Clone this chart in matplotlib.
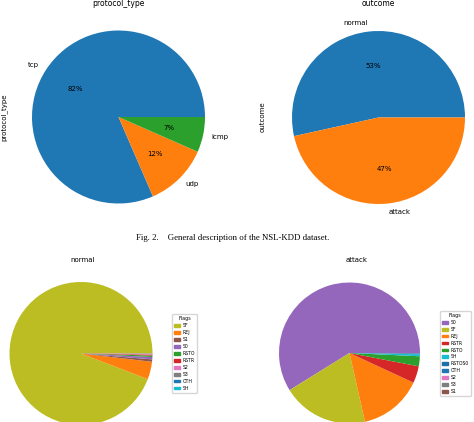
import matplotlib
matplotlib.use('Agg')
import matplotlib.pyplot as plt

W, H = 474, 422

# top row: protocol type and outcome
protocol_labels = ['tcp', 'udp', 'icmp']
protocol_counts = [102689, 14993, 8291]
protocol_colors = ['#1f77b4', '#ff7f0e', '#2ca02c']

outcome_labels = ['normal', 'attack']
outcome_counts = [67343, 58630]
outcome_colors = ['#1f77b4', '#ff7f0e']

# bottom row: flags per outcome (sorted like value_counts)
normal_flags = ['SF', 'REJ', 'S1', 'S0', 'RSTO', 'RSTR', 'S2', 'S3', 'OTH', 'SH']
normal_counts = [63404, 2693, 361, 354, 219, 146, 119, 34, 11, 2]

attack_flags = ['S0', 'SF', 'REJ', 'RSTR', 'RSTO', 'SH', 'RSTOS0', 'OTH', 'S2', 'S3', 'S1']
attack_counts = [34497, 11541, 8540, 2275, 1343, 269, 103, 35, 8, 15, 4]

flag_colors = {
    'SF': '#bcbd22', 'REJ': '#ff7f0e', 'S1': '#8c564b', 'S0': '#9467bd',
    'RSTO': '#2ca02c', 'RSTR': '#d62728', 'S2': '#e377c2', 'S3': '#7f7f7f',
    'OTH': '#1f77b4', 'SH': '#17becf', 'RSTOS0': '#1f6fa8',
}

small = 5.0


# place an axes so the pie (radius 1) has centre (cx, cy) and radius r in pixels
def pie_axes(fig, cx, cy, r):
    ax = fig.add_axes([(cx - r) / W, (H - cy - r) / H, 2 * r / W, 2 * r / H])
    return ax


def flag_legend(fig, flags, x, y):
    handles = [plt.Rectangle((0, 0), 1, 1, color=flag_colors[f]) for f in flags]
    return fig.legend(handles, flags, title='Flags', loc='center left',
                      bbox_to_anchor=(x / W, 1 - y / H), fontsize=3.3, title_fontsize=3.5,
                      handlelength=1.3, handleheight=0.55, labelspacing=0.42,
                      borderpad=0.45, handletextpad=0.5, borderaxespad=0)


fig = plt.figure(figsize=(W / 100, H / 100), dpi=100)

# protocol_type
ax1 = pie_axes(fig, 118.5, 117, 86.5)
ax1.pie(protocol_counts, labels=protocol_labels, colors=protocol_colors,
        autopct='%.0f%%', textprops={'fontsize': small})
ax1.set_xlim(-1, 1)
ax1.set_ylim(-1, 1)
fig.text(118.5 / W, 1 - 4 / H, 'protocol_type', ha='center', va='center', fontsize=small + 0.5)
fig.text(4 / W, 1 - 117 / H, 'protocol_type', ha='center', va='center', rotation=90, fontsize=small)

# outcome
ax2 = pie_axes(fig, 378.5, 117.5, 86.5)
ax2.pie(outcome_counts, labels=outcome_labels, colors=outcome_colors,
        autopct='%.0f%%', textprops={'fontsize': small})
ax2.set_xlim(-1, 1)
ax2.set_ylim(-1, 1)
fig.text(378.5 / W, 1 - 4 / H, 'outcome', ha='center', va='center', fontsize=small + 0.5)
fig.text(263 / W, 1 - 117 / H, 'outcome', ha='center', va='center', rotation=90, fontsize=small)

# caption
fig.text(232.5 / W, 1 - 238 / H, 'Fig. 2.    General description of the NSL-KDD dataset.',
         ha='center', va='center', fontsize=6.3, family='Liberation Serif')

# normal flags
ax3 = pie_axes(fig, 81, 353.5, 71.5)
ax3.pie(normal_counts, colors=[flag_colors[f] for f in normal_flags])
ax3.set_xlim(-1, 1)
ax3.set_ylim(-1, 1)
fig.text(83 / W, 1 - 260 / H, 'normal', ha='center', va='center', fontsize=small)
flag_legend(fig, normal_flags, 172, 353.5)

# attack flags
ax4 = pie_axes(fig, 349.5, 353, 70.5)
ax4.pie(attack_counts, colors=[flag_colors[f] for f in attack_flags])
ax4.set_xlim(-1, 1)
ax4.set_ylim(-1, 1)
fig.text(357 / W, 1 - 260 / H, 'attack', ha='center', va='center', fontsize=small)
flag_legend(fig, attack_flags, 440, 353.5)

fig.savefig('out.png', dpi=100)
